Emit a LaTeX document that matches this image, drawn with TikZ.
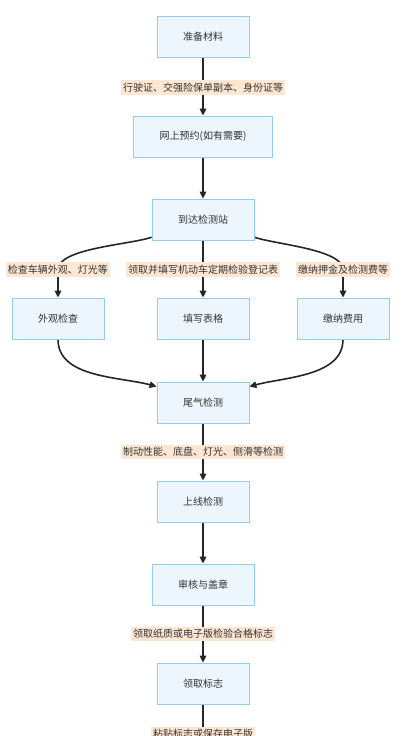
\documentclass[tikz,border=0pt]{standalone}
\usepackage{fontspec}
\setmainfont{Noto Sans CJK SC}
\usetikzlibrary{arrows.meta,backgrounds}
\definecolor{boxfill}{HTML}{EEF6FD}
\definecolor{boxline}{HTML}{93CDF0}
\definecolor{lblfill}{HTML}{FDE7D3}
\definecolor{txtgray}{HTML}{333333}
\begin{document}
\begin{tikzpicture}[x=1pt,y=1pt,font=\fontsize{10pt}{12pt}\selectfont,
	stepbox/.style={draw=boxline,fill=boxfill,line width=.8pt,text=txtgray,inner xsep=26pt,minimum height=41pt},
	edgelbl/.style={fill=lblfill,text=txtgray,inner xsep=2pt,inner ysep=2.5pt},
	arr/.style={line width=1.6pt,draw=black!85,-{Triangle[length=7pt,width=6.5pt]}}]
	\useasboundingbox (0,0) rectangle (400,-736);
	\def\MidX{203}%主线横坐标
	% 主线步骤
	\node[stepbox] (s1) at (\MidX,-37) {准备材料};
	\node[stepbox] (s2) at (\MidX,-136.5) {网上预约(如有需要)};
	\node[stepbox] (s3) at (\MidX,-219.5) {到达检测站};
	\node[stepbox] (w1) at (58,-318.5) {外观检查};
	\node[stepbox] (w2) at (\MidX,-318.5) {填写表格};
	\node[stepbox] (w3) at (343,-318.5) {缴纳费用};
	\node[stepbox] (s4) at (\MidX,-402.5) {尾气检测};
	\node[stepbox] (s5) at (\MidX,-501.5) {上线检测};
	\node[stepbox] (s6) at (\MidX,-584.5) {审核与盖章};
	\node[stepbox] (s7) at (\MidX,-683.5) {领取标志};
	% 连线上的说明
	\node[edgelbl] (l1) at (\MidX,-87.5) {行驶证、交强险保单副本、身份证等};
	\node[edgelbl] (l3a) at (58,-269.5) {检查车辆外观、灯光等};
	\node[edgelbl] (l3b) at (\MidX,-269.5) {领取并填写机动车定期检验登记表};
	\node[edgelbl] (l3c) at (343,-269.5) {缴纳押金及检测费等};
	\node[edgelbl] (l4) at (\MidX,-452) {制动性能、底盘、灯光、侧滑等检测};
	\node[edgelbl] (l6) at (\MidX,-634) {领取纸质或电子版检验合格标志};
	\node[edgelbl] (l7) at (\MidX,-734) {粘贴标志或保存电子版};
	\begin{scope}[on background layer]
		\draw[arr] (s1)--(s2);
		\draw[arr] (s2)--(s3);
		\draw[arr] (s3.199) to[out=200,in=90,looseness=.55] (l3a.center)--(w1.north);
		\draw[arr] (s3)--(w2);
		\draw[arr] (s3.-19) to[out=-20,in=90,looseness=.55] (l3c.center)--(w3.north);
		\draw[arr] (w1.south) to[out=-90,in=165,looseness=.9] (s4.161);
		\draw[arr] (w2)--(s4);
		\draw[arr] (w3.south) to[out=-90,in=15,looseness=.9] (s4.19);
		\foreach \a/\b in {s4/s5,s5/s6,s6/s7}
			\draw[arr] (\a)--(\b);
		\draw[line width=1.6pt,black!85] (s7.south)--(l7.center);
	\end{scope}
\end{tikzpicture}
\end{document}
